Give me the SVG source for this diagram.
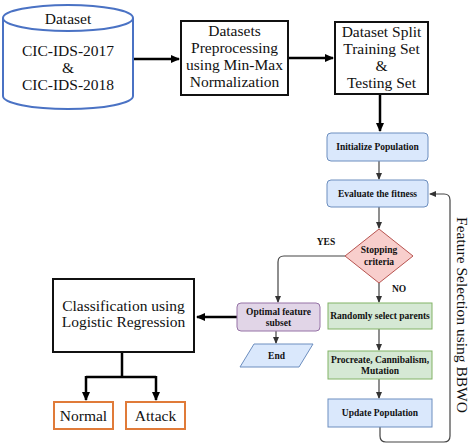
<svg xmlns="http://www.w3.org/2000/svg" width="474" height="444" viewBox="0 0 474 444" font-family="'Liberation Serif', 'Times New Roman', serif">
<defs>
<style>
.t{font-family:"Liberation Serif","Times New Roman",serif;fill:#111;text-anchor:middle}
.big{font-size:15.5px}
.sm{font-size:9.5px;font-weight:bold}
.box{fill:#fff;stroke:#111;stroke-width:2}
.blue{fill:#dae8fc;stroke:#6c8ebf;stroke-width:1}
.green{fill:#d5e8d4;stroke:#82b366;stroke-width:1}
.purple{fill:#e1d5e7;stroke:#9673a6;stroke-width:1}
.red{fill:#f8cecc;stroke:#b85450;stroke-width:1}
.orange{fill:#fff;stroke:#e07b39;stroke-width:2}
.thick{fill:none;stroke:#000;stroke-width:2.5}
.thin{fill:none;stroke:#444;stroke-width:1.2}
</style>
<marker id="ab" markerWidth="10" markerHeight="10" refX="8" refY="5" orient="auto" markerUnits="userSpaceOnUse">
<path d="M0,1 L9,5 L0,9 z" fill="#000"/>
</marker>
<marker id="ag" markerWidth="8" markerHeight="8" refX="6" refY="4" orient="auto" markerUnits="userSpaceOnUse">
<path d="M0,1 L7,4 L0,7 z" fill="#333"/>
</marker>
</defs>
<rect width="474" height="444" fill="#fff"/>

<g id="connectors">
<line class="thick" x1="134" y1="59" x2="179" y2="59" marker-end="url(#ab)"/>
<line class="thick" x1="288" y1="58" x2="333" y2="58" marker-end="url(#ab)"/>
<line class="thick" x1="380" y1="94" x2="380" y2="131" marker-end="url(#ab)"/>
<line class="thin" x1="379" y1="161" x2="379" y2="179" marker-end="url(#ag)"/>
<line class="thin" x1="379" y1="207" x2="379" y2="228" marker-end="url(#ag)"/>
<path class="thin" d="M345,256 H284 Q278,256 278,262 V302" marker-end="url(#ag)"/>
<line class="thin" x1="379" y1="283" x2="379" y2="302" marker-end="url(#ag)"/>
<line class="thin" x1="379" y1="329" x2="379" y2="350" marker-end="url(#ag)"/>
<line class="thin" x1="379" y1="379" x2="379" y2="398" marker-end="url(#ag)"/>
<path class="thin" d="M380,427 V436 Q380,442 386,442 H444 Q450,442 450,436 V200 Q450,194 444,194 H430" marker-end="url(#ag)"/>
<line class="thin" x1="276" y1="331" x2="276" y2="343" marker-end="url(#ag)"/>
<line class="thick" x1="237" y1="317" x2="197" y2="317" marker-end="url(#ab)"/>
<path class="thick" d="M122,352 V377 M86,377 H156" />
<line class="thick" x1="86" y1="376" x2="86" y2="400" marker-end="url(#ab)"/>
<line class="thick" x1="156" y1="376" x2="156" y2="400" marker-end="url(#ab)"/>
<text class="t sm" x="326" y="245" font-family="'Liberation Serif', serif">YES</text>
<text class="t sm" x="399" y="292" font-family="'Liberation Serif', serif">NO</text>
</g>

<g id="dataset" font-family="'Liberation Serif', serif">
<path d="M3,18 V96 A65,13 0 0 0 133,96 V18" fill="#fff" stroke="#4a72c4" stroke-width="2"/>
<ellipse cx="68" cy="18" rx="65" ry="13" fill="#fff" stroke="#4a72c4" stroke-width="2"/>
<text class="t big" x="68" y="24">Dataset</text>
<text class="t big" x="68" y="56">CIC-IDS-2017</text>
<text class="t big" x="68" y="73">&amp;</text>
<text class="t big" x="68" y="90">CIC-IDS-2018</text>
</g>

<g id="preprocessing" font-family="'Liberation Serif', serif">
<rect class="box" x="181" y="21" width="107" height="74"/>
<text class="t big" x="234.5" y="36">Datasets</text>
<text class="t big" x="234.5" y="53">Preprocessing</text>
<text class="t big" x="234.5" y="70">using Min-Max</text>
<text class="t big" x="234.5" y="87">Normalization</text>
</g>

<g id="split" font-family="'Liberation Serif', serif">
<rect class="box" x="335" y="22" width="93" height="72"/>
<text class="t big" x="381.5" y="37">Dataset Split</text>
<text class="t big" x="381.5" y="54">Training Set</text>
<text class="t big" x="381.5" y="71">&amp;</text>
<text class="t big" x="381.5" y="88">Testing Set</text>
</g>

<g id="init" font-family="'Liberation Serif', serif">
<rect class="blue" x="327" y="133" width="101" height="28" rx="4"/>
<text class="t sm" x="377.5" y="150">Initialize Population</text>
</g>

<g id="evaluate" font-family="'Liberation Serif', serif">
<rect class="blue" x="327" y="180" width="101" height="27" rx="4"/>
<text class="t sm" x="377.5" y="197">Evaluate the fitness</text>
</g>

<g id="stopping" font-family="'Liberation Serif', serif">
<polygon class="red" points="379,229 413,256 379,283 345,256"/>
<text class="t sm" x="379" y="253">Stopping</text>
<text class="t sm" x="379" y="265">criteria</text>
</g>

<g id="randomly" font-family="'Liberation Serif', serif">
<rect class="green" x="328" y="303" width="104" height="26"/>
<text class="t sm" x="380" y="319">Randomly select parents</text>
</g>

<g id="procreate" font-family="'Liberation Serif', serif">
<rect class="green" x="328" y="351" width="104" height="28"/>
<text class="t sm" x="380" y="363">Procreate, Cannibalism,</text>
<text class="t sm" x="380" y="374">Mutation</text>
</g>

<g id="update" font-family="'Liberation Serif', serif">
<rect class="blue" x="328" y="399" width="104" height="28"/>
<text class="t sm" x="380" y="416">Update Population</text>
</g>

<g id="optimal" font-family="'Liberation Serif', serif">
<rect class="purple" x="237" y="303" width="83" height="28" rx="4"/>
<text class="t sm" x="278.5" y="315">Optimal feature</text>
<text class="t sm" x="278.5" y="326">subset</text>
</g>

<g id="end" font-family="'Liberation Serif', serif">
<polygon class="blue" points="254,344 313,344 299,367 240,367"/>
<text class="t sm" x="276.5" y="359">End</text>
</g>

<g id="classification" font-family="'Liberation Serif', serif">
<rect class="box" x="53" y="279" width="141" height="73"/>
<text class="t big" x="123.5" y="311">Classification using</text>
<text class="t big" x="123.5" y="327">Logistic Regression</text>
</g>

<g id="normal" font-family="'Liberation Serif', serif">
<rect class="orange" x="54" y="402" width="59" height="27"/>
<text class="t big" x="83.5" y="421">Normal</text>
</g>

<g id="attack" font-family="'Liberation Serif', serif">
<rect class="orange" x="126" y="402" width="59" height="27"/>
<text class="t big" x="155.5" y="421">Attack</text>
</g>

<g id="bbwo-label" font-family="'Liberation Serif', serif">
<text class="t big" transform="translate(457,315) rotate(90)" x="0" y="0">Feature Selection using BBWO</text>
</g>
</svg>
